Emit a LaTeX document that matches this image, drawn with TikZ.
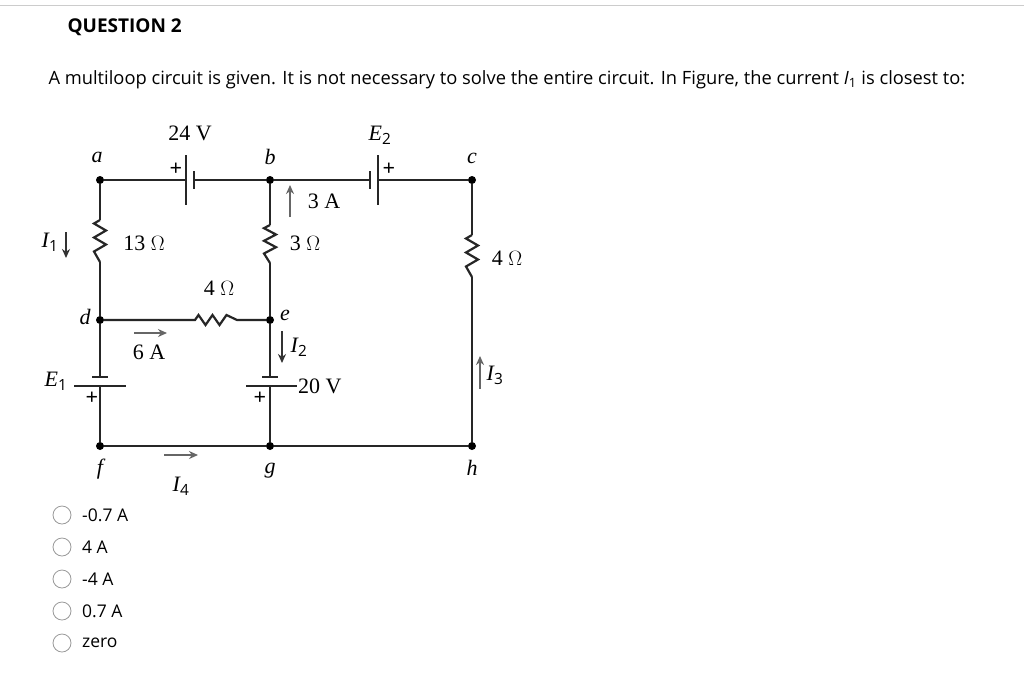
\documentclass[tikz,border=0pt]{standalone}
\usepackage{fontspec}
\setmainfont{Open Sans}
\newfontfamily\tms{Liberation Serif}
\usetikzlibrary{arrows.meta}
\tikzset{
 wire/.style={line width=2.2pt,draw=black!85},
 dot/.style={circle,fill=black,inner sep=0pt,minimum size=8pt},
 lbl/.style={font=\tms\fontsize{22}{22}\selectfont,inner sep=0pt},
 plus/.style={font=\tms\bfseries\fontsize{22}{22}\selectfont,inner sep=0pt},
 il/.style={font=\tms\itshape\fontsize{22}{22}\selectfont,inner sep=0pt},
 carrow/.style={draw=black!60,line width=1.6pt,-{Stealth[length=9pt,width=8pt]}},
 radio/.style={circle,draw=black!40,line width=0.8pt,minimum size=18pt,inner sep=0pt},
 opt/.style={font=\fontsize{17.5}{18}\selectfont,anchor=west,inner sep=0pt}
}
\newcommand{\vres}[3]{% x, y1, y2 vertical zigzag
 \draw[wire] (#1,#2) \foreach \k in {1,...,5}{ -- ({#1+((-1)^\k)*6},{#2+(\k-0.5)*(#3-#2)/6}) } -- (#1,#3);}
\begin{document}
\begin{tikzpicture}[x=1pt,y=-1pt]
\useasboundingbox (0,0) rectangle (1024,672);
\fill[white] (0,0) rectangle (1024,672);
\draw[black!20,line width=1pt] (0,5) -- (1024,5);
\node[anchor=west,font=\bfseries\fontsize{19}{19}\selectfont] (title) at (64,27) {QUESTION 2};
\node[anchor=west,font=\fontsize{18.3}{19}\selectfont] (q) at (45,80) {A multiloop circuit is given. It is not necessary to solve the entire circuit. In Figure, the current \textit{I}\textsubscript{1} is closest to:};
% nodes
\node[dot] (a) at (100,180) {};
\node[dot] (b) at (270,180) {};
\node[dot] (c) at (472,180) {};
\node[dot] (d) at (100,320) {};
\node[dot] (e) at (270,320) {};
\node[dot] (f) at (100,446) {};
\node[dot] (g) at (270,446) {};
\node[dot] (h) at (472,446) {};
% top wire with 24V battery
\draw[wire] (a) -- (186,180);
\draw[wire] (186,155) -- (186,205);
\draw[wire] (194,171) -- (194,189);
\draw[wire] (194,180) -- (b);
\node[plus] at (176,169) {+};
\node[lbl] (v24) at (190,133) {24 V};
% E2
\draw[wire] (b) -- (370,180);
\draw[wire] (370,171) -- (370,189);
\draw[wire] (378,155) -- (378,205);
\draw[wire] (378,180) -- (c);
\node[plus] at (389,169) {+};
\node[il] (E2) at (380,135) {E\textsubscript{\normalfont 2}};
% left branch
\draw[wire] (a) -- (100,220);
\vres{100}{220}{262}
\draw[wire] (100,262) -- (d);
\draw[wire] (d) -- (100,377);
\draw[wire] (92,377) -- (108,377);
\draw[wire] (74,386) -- (126,386);
\draw[wire] (100,386) -- (f);
\node[plus] at (92,398) {+};
\node[il] (E1) at (56,381) {E\textsubscript{\normalfont 1}};
% middle branch
\draw[wire] (b) -- (270,225);
\vres{270}{225}{263}
\draw[wire] (270,263) -- (e);
\draw[wire] (e) -- (270,377);
\draw[wire] (262,377) -- (278,377);
\draw[wire] (246,386) -- (297,386);
\draw[wire] (270,386) -- (g);
\node[plus] at (260,398) {+};
\node[lbl,anchor=west] (v20) at (298,386) {20 V};
% horizontal 4 ohm
\draw[wire] (d) -- (195,320) \foreach \k in {1,...,5}{ -- ({195+(\k-0.5)*42/6},{320+((-1)^\k)*5}) } -- (237,320) -- (e);
% right branch
\draw[wire] (c) -- (472,235);
\vres{472}{235}{277}
\draw[wire] (472,277) -- (h);
% bottom
\draw[wire] (f) -- (g) -- (h);
% labels
\node[il] at (97,157) {a};
\node[il] at (270,157) {b};
\node[il] at (472,158) {c};
\node[il] at (85,317) {d};
\node[il] at (285,315) {e};
\node[il] at (100,469) {f};
\node[il] at (270,471) {g};
\node[il] at (472,468) {h};
\node[lbl] at (144,243) {13 $\Omega$};
\node[lbl] at (305,243) {3 $\Omega$};
\node[lbl] at (507,258) {4 $\Omega$};
\node[lbl] at (219,288) {4 $\Omega$};
\node[lbl] at (149,352) {6 A};
\node[lbl] at (324,201) {3 A};
\node[il] at (50,242) {I\textsubscript{\normalfont 1}};
\node[il] at (299,347) {I\textsubscript{\normalfont 2}};
\node[il] at (495,375) {I\textsubscript{\normalfont 3}};
\node[il] at (181,486) {I\textsubscript{\normalfont 4}};
\coordinate (i1s) at (66,232); \coordinate (i1e) at (66,258);
\draw[carrow,draw=black!80] (i1s) -- (i1e);
\coordinate (s3a) at (290,217); \coordinate (e3a) at (290,185);
\draw[carrow] (s3a) -- (e3a);
\coordinate (s6) at (134,333); \coordinate (e6) at (167,333);
\draw[carrow] (s6) -- (e6);
\coordinate (s2) at (282,331); \coordinate (e2) at (282,363);
\draw[carrow,draw=black!80] (s2) -- (e2);
\coordinate (s3) at (480,389); \coordinate (e3) at (480,356);
\draw[carrow] (s3) -- (e3);
\coordinate (s4) at (164,455); \coordinate (e4) at (198,455);
\draw[carrow] (s4) -- (e4);
% options
\foreach \y/\t [count=\i] in {515/-0.7 A,547/4 A,579/-4 A,611/0.7 A,643/zero}{
 \node[radio] (r\i) at (62,\y) {};
 \node[opt] (o\i) at (82,\y) {\t};
}
\end{tikzpicture}
\end{document}
